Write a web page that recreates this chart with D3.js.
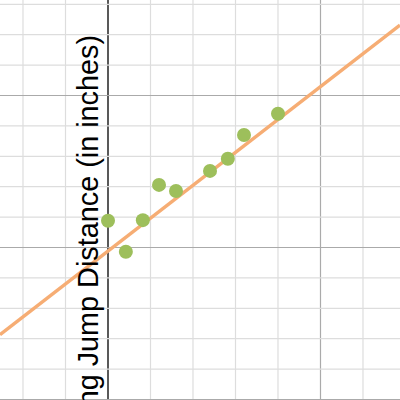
<!DOCTYPE html>
<html><head><meta charset="utf-8">
<script src="https://cdn.jsdelivr.net/npm/d3@7"></script>
<style>body{margin:0}svg{display:block}</style></head>
<body><script>
const ages = [0, 0.42, 0.82, 1.2, 1.6, 2.4, 2.82, 3.2, 4.0];
const jumps = [29.4, 24.3, 29.5, 35.3, 34.3, 37.6, 39.6, 43.5, 47.0];
const fitIntercept = 24.4, fitSlope = 5.41;
const yLabel = "Long Jump Distance (in inches)";

const W = 400, H = 400;
const x = d3.scaleLinear().domain([0, 1]).range([108, 150.5]);
const y = d3.scaleLinear().domain([0, 5]).range([399.5, 369.1]);
const svg = d3.select("body").append("svg").attr("width", W).attr("height", H);
svg.append("rect").attr("width", W).attr("height", H).attr("fill", "#fff");

const xmin = x.invert(0), xmax = x.invert(W), ymin = y.invert(H), ymax = y.invert(0);
const xt = d3.range(Math.ceil(xmin), Math.floor(xmax) + 1);
const yt = d3.range(Math.ceil(ymin / 5) * 5, ymax + 0.01, 5);
svg.selectAll(".vx").data(xt).join("line")
  .attr("x1", d => x(d)).attr("x2", d => x(d)).attr("y1", 0).attr("y2", H)
  .attr("stroke", d => d === 0 ? "#222" : (d % 5 === 0 ? "#aaa" : "#ddd"))
  .attr("stroke-width", d => d === 0 ? 1.5 : 1.2);
svg.selectAll(".hy").data(yt).join("line")
  .attr("y1", d => y(d)).attr("y2", d => y(d)).attr("x1", 0).attr("x2", W)
  .attr("stroke", d => d % 25 === 0 ? "#aaa" : "#ddd").attr("stroke-width", 1.2);

svg.append("line")
  .attr("x1", x(xmin)).attr("y1", y(fitIntercept + fitSlope * xmin))
  .attr("x2", x(xmax)).attr("y2", y(fitIntercept + fitSlope * xmax))
  .attr("stroke", "#f6ad74").attr("stroke-width", 3.5);

svg.selectAll("circle").data(ages).join("circle")
  .attr("cx", d => x(d)).attr("cy", (d, i) => y(jumps[i])).attr("r", 7)
  .attr("fill", "#9dbf5b");

svg.append("text").attr("transform", "translate(98,35) rotate(-90)")
  .attr("text-anchor", "end").attr("font-family", "Liberation Sans, Arial")
  .attr("font-size", 28.8).attr("fill", "#000").text(yLabel);
</script></body></html>
